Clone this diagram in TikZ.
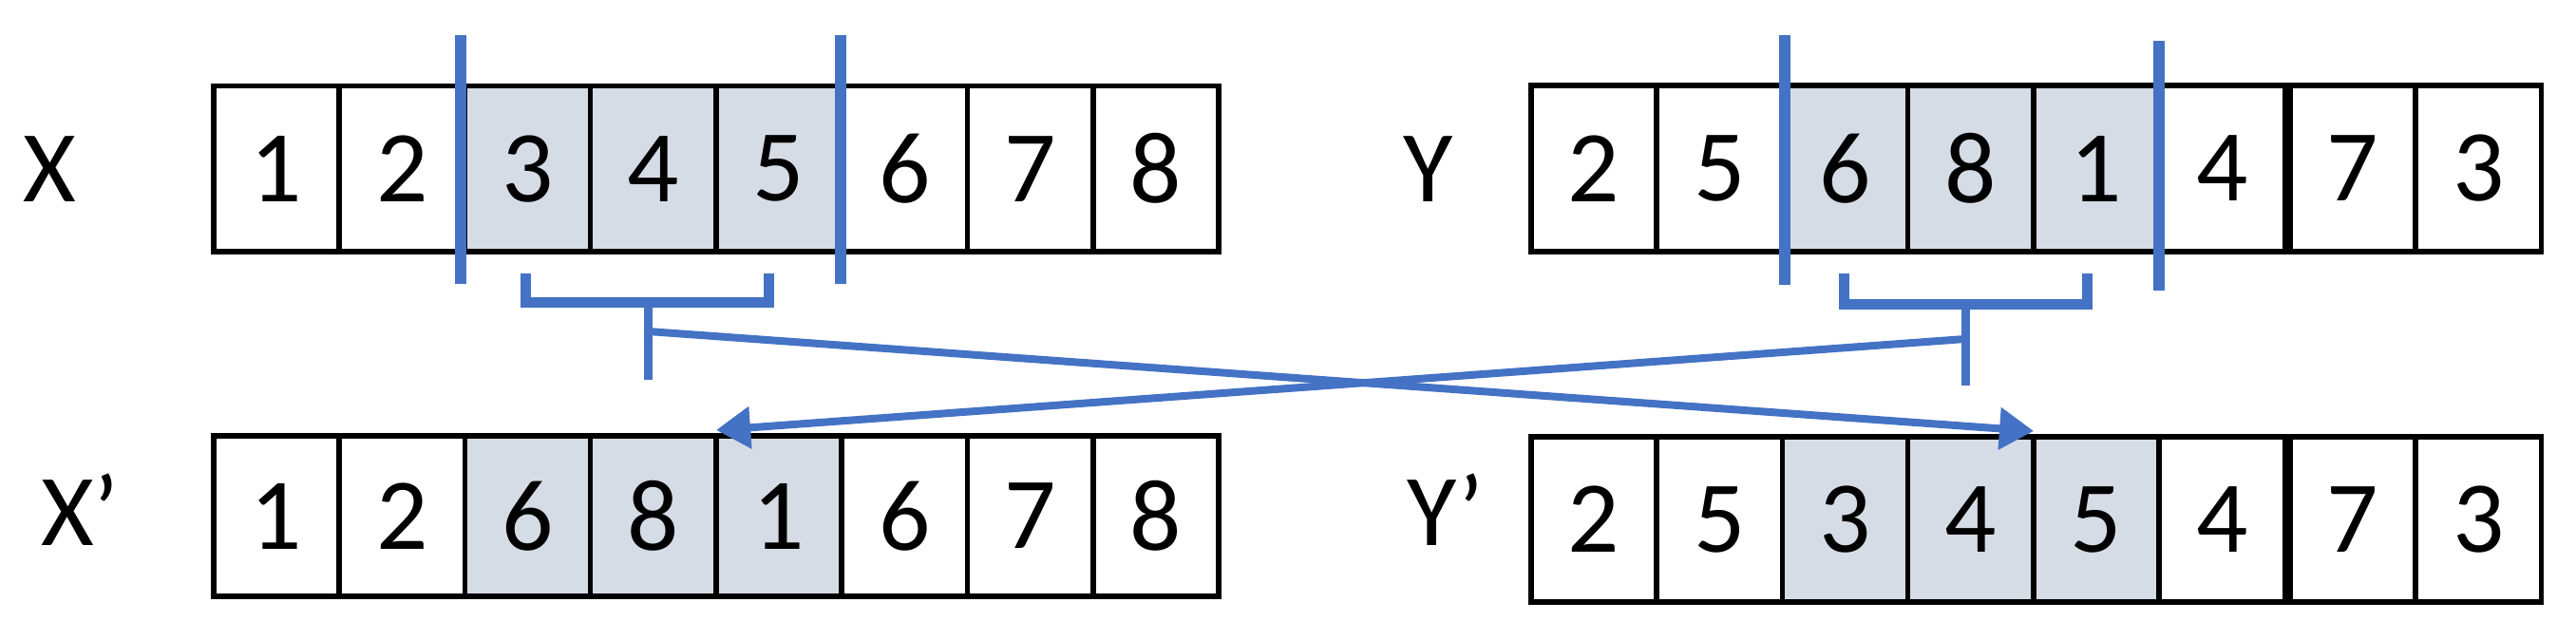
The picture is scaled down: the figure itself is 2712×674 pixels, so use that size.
\documentclass[tikz,border=0pt]{standalone}
\usepackage{fontspec}
\setmainfont{Carlito}
\usetikzlibrary{arrows.meta}
\definecolor{cutblue}{HTML}{4472C4}
\definecolor{swapfill}{HTML}{D6DCE5}
\begin{document}
\begin{tikzpicture}[
        x=0.01cm, y=-0.01cm,
        cell/.style={draw, line width=0.055cm, minimum width=1.3225cm, inner sep=0pt, outer sep=0pt, font=\fontsize{30.5}{36}\selectfont},
        kept/.style={},
        swapped/.style={fill=swapfill},
        tag/.style={anchor=base, inner sep=0pt, font=\fontsize{30.5}{36}\selectfont},
        cut/.style={draw=cutblue, line width=0.12cm},
        brace/.style={draw=cutblue, line width=0.11cm},
        swap/.style={draw=cutblue, line width=0.08cm, -{Triangle[length=0.36cm, width=0.43cm]}}
    ]
        \useasboundingbox (0,0) rectangle (2712,674);
        % parents
        \node[tag] (lx) at (52, 213) {X};
        \foreach \v/\s [count=\i] in {1/kept,2/kept,3/swapped,4/swapped,5/swapped,6/kept,7/kept,8/kept}
            \node[cell, \s, minimum height=1.745cm] (x\i) at ({225+132.25*\i-66.125}, 177.75) {\v};
        \node[tag] (ly) at (1504, 213) {Y};
        \foreach \v/\s [count=\i] in {2/kept,5/kept,6/swapped,8/swapped,1/swapped,4/kept,7/kept,3/kept}
            \node[cell, \s, minimum height=1.75cm] (y\i) at ({1612+132.25*\i-66.125+5.5*(\i>6)}, 177.5) {\v};
        % children
        \node[tag] (lxp) at (84.5, 575) {X’};
        \foreach \v/\s [count=\i] in {1/kept,2/kept,6/swapped,8/swapped,1/swapped,6/kept,7/kept,8/kept}
            \node[cell, \s, minimum height=1.69cm] (xp\i) at ({225+132.25*\i-66.125}, 543.5) {\v};
        \node[tag] (lyp) at (1522, 575) {Y’};
        \foreach \v/\s [count=\i] in {2/kept,5/kept,3/swapped,4/swapped,5/swapped,4/kept,7/kept,3/kept}
            \node[cell, \s, minimum height=1.74cm] (yp\i) at ({1612+132.25*\i-66.125+5.5*(\i>6)}, 547) {\v};
        % crossover points
        \coordinate (xcut1) at (485, 37);
        \coordinate (xcut2) at (884.7, 37);
        \coordinate (ycut1) at (1879, 37);
        \coordinate (ycut2) at (2272.5, 43);
        \draw[cut] (xcut1) -- ++(0, 262);
        \draw[cut] (xcut2) -- ++(0, 262);
        \draw[cut] (ycut1) -- ++(0, 263);
        \draw[cut] (ycut2) -- ++(0, 263);
        % brackets
        \draw[brace] (553, 288) -- (553, 318.5) -- (809, 318.5) -- (809, 288);
        \draw[brace, line width=0.09cm] (682, 318.5) -- (682, 400);
        \draw[brace] (1941, 288) -- (1941, 321) -- (2197.5, 321) -- (2197.5, 288);
        \draw[brace, line width=0.09cm] (2069, 321) -- (2069, 406);
        \coordinate (xfrom) at (682, 349);
        \coordinate (yfrom) at (2069, 357);
        \draw[swap] (xfrom) -- ([yshift=0.06cm]yp4.north east);
        \draw[swap] (yfrom) -- ([yshift=0.06cm]xp4.north east);
    \end{tikzpicture}
\end{document}
